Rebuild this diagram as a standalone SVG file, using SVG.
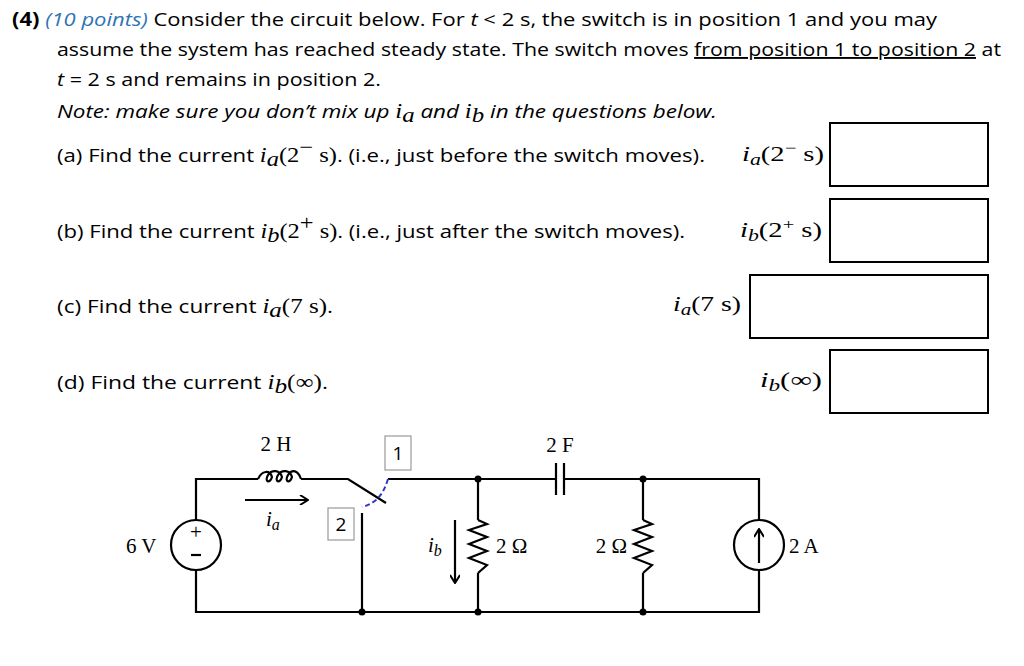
<svg xmlns="http://www.w3.org/2000/svg" width="1024" height="666" viewBox="0 0 1024 666">
<style>
.t{font-family:"Open Sans","Liberation Sans",sans-serif;font-size:19px;fill:#000}
.m{font-family:"Liberation Serif","DejaVu Serif",serif;font-size:21px;fill:#000}
.w{fill:none;stroke:#000;stroke-width:2.2}
.box{fill:#fff;stroke:#000;stroke-width:2}
.sb{fill:#fff;stroke:#999;stroke-width:1.2}
</style>
<defs><marker id="ah" markerWidth="10" markerHeight="10" refX="9" refY="5" orient="auto" markerUnits="userSpaceOnUse"><path d="M1,0 L9,5 L1,10" fill="none" stroke="#000" stroke-width="2"/></marker></defs>
<rect width="1024" height="666" fill="#fff"/>
<g id="text">
<text class="t" x="12" y="26" textLength="925" lengthAdjust="spacingAndGlyphs"><tspan font-weight="bold">(4)</tspan> <tspan fill="#2e74b5" font-style="italic">(10 points)</tspan> Consider the circuit below. For <tspan font-style="italic">t</tspan> &lt; 2 s, the switch is in position 1 and you may</text>
<text class="t" x="57" y="56" textLength="944" lengthAdjust="spacingAndGlyphs">assume the system has reached steady state. The switch moves <tspan text-decoration="underline">from position 1 to position 2</tspan> at</text>
<text class="t" x="57" y="86" textLength="324" lengthAdjust="spacingAndGlyphs"><tspan font-style="italic">t</tspan> = 2 s and remains in position 2.</text>
<text class="t" x="57" y="118" font-style="italic" textLength="660" lengthAdjust="spacingAndGlyphs">Note: make sure you don’t mix up <tspan class="m" font-size="23">i</tspan><tspan class="m" font-size="16" dy="4">a</tspan><tspan dy="-4"> and </tspan><tspan class="m" font-size="23">i</tspan><tspan class="m" font-size="16" dy="4">b</tspan><tspan dy="-4"> in the questions below.</tspan></text>
<text class="t" x="57" y="162" textLength="648" lengthAdjust="spacingAndGlyphs">(a) Find the current <tspan class="m" font-size="23" font-style="italic">i</tspan><tspan class="m" font-style="italic" font-size="16" dy="4">a</tspan><tspan class="m" font-size="22" dy="-4">(2</tspan><tspan class="m" font-size="14" dy="-8">−</tspan><tspan class="m" font-size="22" dy="8"> s)</tspan>. (i.e., just before the switch moves).</text>
<text class="t" x="57" y="238" textLength="628" lengthAdjust="spacingAndGlyphs">(b) Find the current <tspan class="m" font-size="23" font-style="italic">i</tspan><tspan class="m" font-style="italic" font-size="16" dy="4">b</tspan><tspan class="m" font-size="22" dy="-4">(2</tspan><tspan class="m" font-size="14" dy="-8">+</tspan><tspan class="m" font-size="22" dy="8"> s)</tspan>. (i.e., just after the switch moves).</text>
<text class="t" x="57" y="313" textLength="276" lengthAdjust="spacingAndGlyphs">(c) Find the current <tspan class="m" font-size="23" font-style="italic">i</tspan><tspan class="m" font-style="italic" font-size="16" dy="4">a</tspan><tspan class="m" font-size="22" dy="-4">(7 s)</tspan>.</text>
<text class="t" x="57" y="389" textLength="271" lengthAdjust="spacingAndGlyphs">(d) Find the current <tspan class="m" font-size="23" font-style="italic">i</tspan><tspan class="m" font-style="italic" font-size="16" dy="4">b</tspan><tspan class="m" font-size="22" dy="-4">(∞)</tspan>.</text>
<text class="m" x="742" y="161" font-size="23" font-style="italic" textLength="82" lengthAdjust="spacingAndGlyphs">i<tspan font-size="16" dy="4">a</tspan><tspan font-style="normal" dy="-4">(2</tspan><tspan font-style="normal" font-size="15" dy="-8">−</tspan><tspan font-style="normal" dy="8"> s)</tspan></text>
<text class="m" x="740" y="237" font-size="23" font-style="italic" textLength="82" lengthAdjust="spacingAndGlyphs">i<tspan font-size="16" dy="4">b</tspan><tspan font-style="normal" dy="-4">(2</tspan><tspan font-style="normal" font-size="15" dy="-8">+</tspan><tspan font-style="normal" dy="8"> s)</tspan></text>
<text class="m" x="673" y="311" font-size="23" font-style="italic" textLength="68" lengthAdjust="spacingAndGlyphs">i<tspan font-size="16" dy="4">a</tspan><tspan font-style="normal" dy="-4">(7 s)</tspan></text>
<text class="m" x="760" y="387" font-size="23" font-style="italic" textLength="62" lengthAdjust="spacingAndGlyphs">i<tspan font-size="16" dy="4">b</tspan><tspan font-style="normal" dy="-4">(∞)</tspan></text>
</g>
<g id="answer-boxes">
<rect class="box" x="830" y="123" width="158" height="63"/>
<rect class="box" x="830" y="199" width="158" height="63"/>
<rect class="box" x="750" y="275" width="238" height="63"/>
<rect class="box" x="830" y="350" width="158" height="63"/>
</g>
<g id="connectors">
<path class="w" d="M196,520 V479 H258 M301,479 H348 L386,503 M388,479 H556 M564,479 H759 V520 M759,570 V612 H196 V570"/>
<path class="w" d="M362,513 V612"/>
<path class="w" d="M478,479 V520 M478,573 V612"/>
<path class="w" d="M643,479 V520 M643,573 V612"/>
<circle cx="478" cy="479" r="3.5"/><circle cx="643" cy="479" r="3.5"/>
<circle cx="362" cy="612" r="3.5"/><circle cx="478" cy="612" r="3.5"/><circle cx="643" cy="612" r="3.5"/>
<path d="M388,479 C384,492 378,503 362,507" fill="none" stroke="#3333cc" stroke-width="2" stroke-dasharray="5,3"/>
</g>
<g id="source-6V">
<circle class="w" cx="196" cy="545" r="25"/>
<text class="m" x="196" y="539" text-anchor="middle" font-size="20">+</text>
<path class="w" d="M191,555 H201"/>
<text class="m" x="126" y="553">6 V</text>
</g>
<g id="inductor">
<path class="w" d="M258,479 C262,470 270,470 272,477 C270,484 264,482 268,475 C272,469 280,470 282,477 C280,484 274,482 278,475 C282,469 290,470 292,477 C290,484 284,482 288,475 C292,469 298,470 301,479"/>
<text class="m" x="276" y="451" text-anchor="middle">2 H</text>
<path class="w" d="M245,500 H308" marker-end="url(#ah)"/>
<text class="m" x="266" y="526" font-size="23" font-style="italic">i<tspan font-size="16" dy="4">a</tspan></text>
</g>
<g id="switch-labels">
<rect class="sb" x="385" y="436" width="26" height="34"/>
<text class="t" x="398" y="460" text-anchor="middle" font-size="15">1</text>
<rect class="sb" x="328" y="508" width="26" height="32"/>
<text class="t" x="341" y="531" text-anchor="middle" font-size="15">2</text>
</g>
<g id="resistor-1">
<path class="w" d="M478,520 L487,524 L469,530 L487,537 L469,544 L487,551 L469,558 L487,565 L478,573"/>
<path class="w" d="M455,520 V583" marker-end="url(#ah)"/>
<text class="m" x="428" y="552" font-size="23" font-style="italic">i<tspan font-size="16" dy="4">b</tspan></text>
<text class="m" x="496" y="553">2 Ω</text>
</g>
<g id="capacitor">
<path class="w" d="M556,463 V495 M564,463 V495"/>
<text class="m" x="560" y="452" text-anchor="middle">2 F</text>
</g>
<g id="resistor-2">
<path class="w" d="M643,520 L652,524 L634,530 L652,537 L634,544 L652,551 L634,558 L652,565 L643,573"/>
<text class="m" x="627" y="553" text-anchor="end">2 Ω</text>
</g>
<g id="source-2A">
<circle class="w" cx="759" cy="545" r="25"/>
<path class="w" d="M759,563 V529" marker-end="url(#ah)"/>
<text class="m" x="789" y="553">2 A</text>
</g>
</svg>
